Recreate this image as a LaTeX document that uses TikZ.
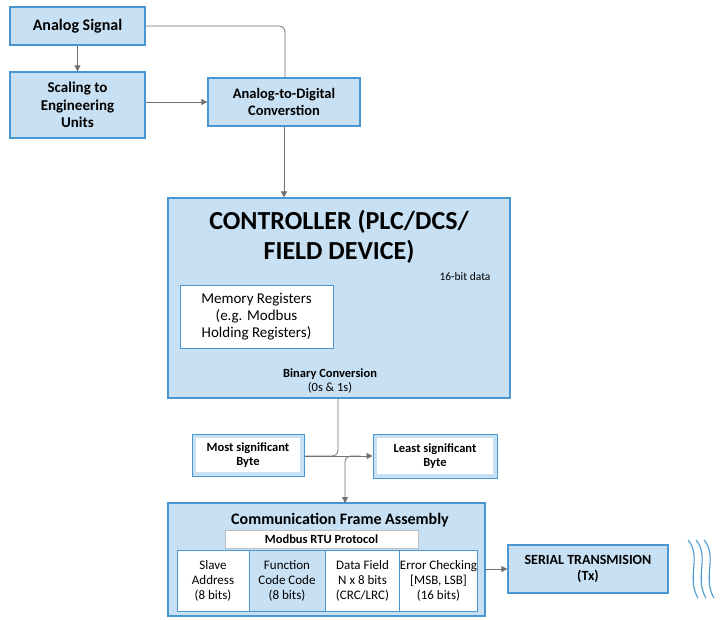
\documentclass[tikz,border=0pt]{standalone}
\usepackage{fontspec}
\setmainfont{Carlito}
\usetikzlibrary{arrows.meta}
\definecolor{bfill}{HTML}{C8E0F3}
\definecolor{bdraw}{HTML}{4A97CF}
\definecolor{lgray}{HTML}{707070}
\newcommand{\fs}[1]{\fontsize{#1pt}{\dimexpr #1pt*115/100\relax}\selectfont}
\tikzset{
 blk/.style={draw=bdraw,line width=1.3pt,fill=bfill,align=center,inner sep=0pt},
 wbox/.style={draw=bdraw,line width=1pt,fill=white,align=center,inner sep=0pt},
 conn/.style={draw=lgray,line width=0.8pt,rounded corners=6pt},
 arr/.style={conn,-{Triangle[length=6pt,width=6pt]}},
}
\begin{document}
\begin{tikzpicture}[x=1pt,y=-1pt]
\useasboundingbox (0,0) rectangle (725,620);
% top boxes
\node[blk,minimum width=135pt,minimum height=38pt,font=\bfseries\fs{16}] (as) at (77.5,26) {Analog Signal};
\node[blk,minimum width=135pt,minimum height=66pt,font=\bfseries\fs{15}] (sc) at (77.5,105) {Scaling to\\Engineering\\Units};
\node[blk,minimum width=152pt,minimum height=48pt,font=\bfseries\fs{14.5}] (adc) at (284,102) {Analog-to-Digital\\Converstion};
% controller
\node[blk,minimum width=342pt,minimum height=200pt] (ctl) at (339,298) {};
\node[font=\bfseries\fontsize{26}{30}\selectfont,align=center] (ctt) at (339,237) {CONTROLLER (PLC/DCS/\\FIELD DEVICE)};
\node[font=\fs{11.5}] (bits) at (465,277) {16-bit data};
\node[wbox,minimum width=153pt,minimum height=63pt,font=\fs{15}] (mem) at (256.5,316.5) {Memory Registers\\ (e.g. Modbus\\ Holding Registers)};
\node[font=\bfseries\fs{12.5},align=center] (bc) at (330,381) {Binary Conversion\\ {\normalfont(0s \& 1s)}};
% bytes
\node[blk,line width=1pt,minimum width=112pt,minimum height=42pt] (msbo) at (248,455) {};
\node[wbox,draw=none,minimum width=104pt,minimum height=34pt,font=\bfseries\fs{12.5}] (msb) at (248,455) {Most significant\\Byte};
\node[blk,line width=1pt,minimum width=124pt,minimum height=44pt] (lsbo) at (435,456) {};
\node[wbox,draw=none,minimum width=116pt,minimum height=36pt,font=\bfseries\fs{12.5}] (lsb) at (435,456) {Least significant\\Byte};
% frame
\node[blk,minimum width=317pt,minimum height=113pt] (fr) at (326.5,559.5) {};
\node[font=\bfseries\fs{16}] (frt) at (340,520) {Communication Frame Assembly};
\node[wbox,draw=gray!50,line width=0.5pt,minimum width=193pt,minimum height=18pt,font=\bfseries\fs{12.5}] (rtu) at (321.5,539) {Modbus RTU Protocol};
\node[wbox,minimum width=72pt,minimum height=61pt,font=\fs{13}] (c1) at (213,580.5) {Slave\\Address\\(8 bits)};
\node[blk,line width=1pt,minimum width=76pt,minimum height=61pt,font=\fs{13}] (c2) at (287,580.5) {Function\\Code Code\\(8 bits)};
\node[wbox,minimum width=75pt,minimum height=61pt,font=\fs{13}] (c3) at (362.5,580.5) {Data Field\\N x 8 bits\\(CRC/LRC)};
\node[wbox,minimum width=77pt,minimum height=61pt,font=\fs{13}] (c4) at (438.5,580.5) {Error Checking\\{[MSB, LSB]}\\(16 bits)};
\node[blk,minimum width=160pt,minimum height=48pt,font=\bfseries\fs{14}] (ser) at (588,569) {SERIAL TRANSMISION\\(Tx)};
% waves
\foreach \dx in {0,8,16}{
 \draw[bdraw,line width=1.1pt] (688+\dx,540) .. controls (702+\dx,556) and (686+\dx,578) .. (698+\dx,598);
}
% connectors
\coordinate (t1) at (285,26);
\draw[conn] (as.east) -- (t1) -- (adc.north -| t1);
\draw[arr] (as.south) -- (sc.north);
\draw[arr] (sc.east |- adc.west) -- (adc.west);
\draw[arr] (adc.south) -- (adc.south |- ctl.north);
\coordinate (j) at (338,456);
\draw[conn] (338,398) -- (j) -- (msbo.east |- j);
\draw[arr] (msbo.east |- j) -- (lsbo.west |- j);
\draw[arr] (lsbo.west |- j) ++(-12,0) -| (345,503);
\draw[arr] (fr.east |- ser.west) -- (ser.west);
\end{tikzpicture}
\end{document}
